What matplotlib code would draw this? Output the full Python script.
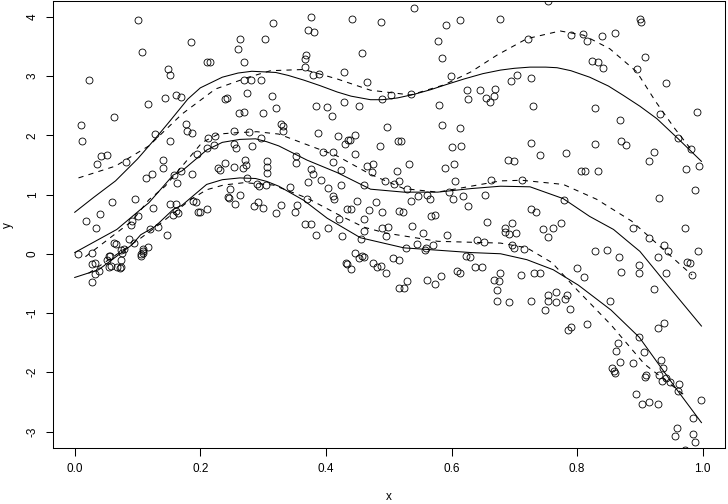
import matplotlib
matplotlib.use("Agg")
import matplotlib.pyplot as plt
import numpy as np

# ---- scatter data (x, y) ----
points = [
    (0.101,3.94),(0.107,3.41),(0.023,2.94),(0.010,2.18),(0.011,1.90),(0.062,2.30),(0.117,2.52),
    (0.042,1.65),(0.052,1.67),(0.035,1.52),(0.081,1.55),(0.128,2.02),(0.143,2.63),(0.162,2.68),
    (0.170,2.65),(0.148,3.12),(0.151,3.01),(0.185,3.58),(0.210,3.23),(0.215,3.23),(0.263,3.63),
    (0.260,3.46),(0.303,3.62),(0.315,3.90),(0.269,3.23),(0.270,2.94),(0.280,2.94),(0.297,2.94),
    (0.275,2.71),(0.240,2.62),(0.242,2.63),(0.314,2.66),(0.321,2.46),(0.262,2.38),(0.270,2.39),
    (0.300,2.38),(0.177,2.19),(0.179,2.07),(0.187,2.03),(0.151,1.91),(0.212,1.96),(0.223,1.98),
    (0.210,1.78),(0.222,1.84),(0.195,1.68),(0.253,2.08),(0.277,2.06),(0.296,1.95),(0.254,1.86),
    (0.257,1.78),(0.283,1.82),(0.141,1.58),(0.140,1.44),(0.113,1.28),(0.123,1.35),(0.158,1.33),
    (0.169,1.39),(0.163,1.20),(0.187,1.34),(0.228,1.44),(0.232,1.41),(0.240,1.54),(0.253,1.47),
    (0.268,1.44),(0.271,1.59),(0.272,1.50),(0.306,1.56),(0.306,1.47),(0.306,1.36),(0.275,1.28),
    (0.290,1.17),(0.294,1.15),(0.304,1.16),(0.059,0.87),(0.096,0.93),(0.041,0.67),(0.018,0.55),
    (0.034,0.44),(0.091,0.55),(0.100,0.63),(0.089,0.49),(0.124,0.78),(0.152,0.84),(0.161,0.84),
    (0.156,0.65),(0.162,0.72),(0.164,0.68),(0.189,0.89),(0.193,0.87),(0.197,0.70),(0.199,0.71),
    (0.211,0.75),(0.244,0.96),(0.246,0.94),(0.248,1.10),(0.256,0.84),(0.263,0.99),(0.285,0.80),
    (0.292,0.87),(0.300,0.77),(0.321,0.69),(0.120,0.42),(0.132,0.46),
    (0.006,0.00),(0.028,0.01),(0.033,-0.16),(0.027,-0.18),(0.033,-0.34),(0.038,-0.29),(0.028,-0.47),
    (0.054,-0.03),(0.056,-0.03),(0.052,-0.10),(0.054,-0.23),(0.057,-0.20),(0.063,0.18),(0.065,0.16),
    (0.073,0.06),(0.079,0.08),(0.073,-0.10),(0.075,0.01),(0.068,-0.23),(0.072,-0.24),(0.074,-0.23),
    (0.087,0.25),(0.094,0.18),(0.109,0.08),(0.116,0.11),(0.105,-0.03),(0.106,-0.01),(0.108,0.01),
    (0.109,0.05),(0.147,0.32),
    (0.377,3.99),(0.371,3.78),(0.381,3.74),(0.441,3.96),(0.487,3.92),(0.541,4.15),(0.591,3.86),
    (0.613,3.95),(0.678,3.97),(0.579,3.59),(0.585,3.31),(0.457,3.38),(0.369,3.35),(0.367,3.28),
    (0.367,3.15),(0.380,3.02),(0.389,3.04),(0.429,3.06),(0.466,2.90),(0.599,3.00),(0.384,2.49),
    (0.402,2.47),(0.410,2.32),(0.429,2.56),(0.452,2.49),(0.490,2.61),(0.503,2.68),(0.535,2.69),
    (0.580,2.51),(0.625,2.76),(0.627,2.61),(0.646,2.76),(0.655,2.63),(0.661,2.56),(0.667,2.67),
    (0.670,2.78),(0.329,2.19),(0.332,2.16),(0.332,2.07),(0.497,2.14),(0.585,2.18),(0.614,2.13),
    (0.388,2.04),(0.419,1.98),(0.431,1.86),(0.435,1.92),(0.438,1.92),(0.446,2.00),(0.486,1.82),
    (0.515,1.90),(0.519,1.91),(0.601,1.81),(0.615,1.82),(0.352,1.65),(0.352,1.53),(0.395,1.71),
    (0.412,1.72),(0.412,1.55),(0.447,1.69),(0.424,1.41),(0.376,1.43),(0.380,1.35),(0.392,1.25),
    (0.371,1.21),(0.466,1.48),(0.475,1.52),(0.473,1.38),(0.513,1.39),(0.532,1.52),(0.590,1.44),
    (0.604,1.51),(0.343,1.13),(0.424,1.16),(0.461,1.16),(0.494,1.23),(0.508,1.17),(0.516,1.23),
    (0.529,1.09),(0.606,1.22),(0.663,1.25),(0.653,0.99),(0.404,1.11),(0.411,0.98),(0.413,0.92),
    (0.370,0.93),(0.450,0.89),(0.480,0.87),(0.546,0.98),(0.561,1.00),(0.566,0.92),(0.536,0.89),
    (0.596,1.05),(0.602,0.93),(0.618,0.98),(0.627,0.81),(0.328,0.82),(0.350,0.71),(0.354,0.83),
    (0.434,0.76),(0.440,0.75),(0.469,0.74),(0.489,0.70),(0.516,0.72),(0.523,0.71),(0.567,0.63),
    (0.574,0.66),(0.366,0.51),(0.376,0.50),(0.421,0.58),(0.461,0.58),(0.404,0.44),(0.490,0.43),
    (0.499,0.46),(0.537,0.47),(0.657,0.53),
    (0.385,0.32),(0.425,0.30),(0.460,0.38),(0.456,0.25),(0.446,0.02),(0.452,-0.07),(0.458,-0.03),
    (0.460,-0.06),(0.432,-0.16),(0.433,-0.17),(0.440,-0.25),(0.475,-0.15),(0.482,-0.23),(0.487,-0.21),
    (0.496,-0.33),(0.495,0.30),(0.507,-0.07),(0.516,-0.11),(0.527,0.10),(0.517,-0.57),(0.524,-0.57),
    (0.529,-0.46),(0.545,0.16),(0.554,0.35),(0.557,0.07),(0.560,0.10),(0.571,0.14),(0.561,-0.45),
    (0.574,-0.51),(0.583,-0.37),(0.593,0.31),(0.608,-0.29),(0.614,-0.32),(0.623,-0.03),(0.629,-0.06),
    (0.637,-0.22),(0.648,-0.22),(0.641,0.24),(0.651,0.20),(0.668,-0.45),(0.675,-0.46),(0.672,-0.62),
    (0.672,-0.80),(0.678,-0.33),
    (0.753,4.27),(0.900,3.96),(0.902,3.92),(0.721,3.63),(0.791,3.69),(0.810,3.71),(0.816,3.59),
    (0.839,3.67),(0.861,3.72),(0.908,3.32),(0.823,3.25),(0.833,3.24),(0.841,3.14),(0.896,3.11),
    (0.695,2.91),(0.704,3.02),(0.726,2.96),(0.942,2.88),(0.729,2.50),(0.829,2.46),(0.868,2.26),
    (0.932,2.36),(0.991,2.39),(0.960,1.95),(0.981,1.76),(0.994,1.48),(0.973,1.43),(0.988,1.07),
    (0.931,0.94),(0.915,1.57),(0.922,1.72),(0.870,1.90),(0.878,1.83),(0.829,1.85),(0.726,1.87),
    (0.741,1.66),(0.783,1.70),(0.690,1.58),(0.699,1.57),(0.806,1.39),(0.813,1.39),(0.834,1.39),
    (0.712,1.24),(0.779,0.90),(0.727,0.76),(0.735,0.70),(0.685,0.44),(0.696,0.52),(0.746,0.42),
    (0.762,0.43),(0.774,0.52),(0.889,0.43),(0.972,0.43),
    (0.685,0.36),(0.692,0.34),(0.703,0.35),(0.753,0.28),(0.697,0.14),(0.700,0.10),(0.716,0.08),
    (0.691,-0.81),(0.711,-0.36),(0.731,-0.32),(0.741,-0.32),(0.727,-0.80),(0.749,-0.95),(0.754,-0.69),
    (0.754,-0.80),(0.766,-0.65),(0.766,-0.81),(0.780,-0.76),(0.784,-0.70),(0.788,-0.94),(0.785,-1.28),
    (0.791,-1.24),(0.800,-0.24),(0.811,-0.39),(0.816,-1.18),(0.829,0.04),(0.848,0.06),(0.866,-0.05),
    (0.870,-0.30),(0.852,-0.80),(0.914,0.27),(0.899,-0.19),(0.899,-0.32),(0.923,-0.60),(0.929,-0.06),
    (0.938,0.14),(0.944,0.05),(0.941,-0.32),(0.975,-0.14),(0.980,-0.16),(0.983,-0.36),(0.993,0.05),
    (0.929,-1.26),(0.938,-1.17),(0.899,-1.41),(0.865,-1.50),(0.862,-1.64),(0.869,-1.82),(0.856,-1.93),
    (0.859,-1.98),(0.860,-2.01),(0.889,-1.85),(0.907,-1.66),(0.934,-1.79),(0.937,-1.92),(0.908,-2.08),
    (0.910,-2.05),(0.931,-2.05),(0.935,-2.14),(0.942,-2.10),(0.948,-2.16),(0.963,-2.20),(0.960,-2.31),
    (0.894,-2.37),(0.904,-2.54),(0.914,-2.51),(0.929,-2.54),(0.997,-2.46),(0.984,-2.78),(0.959,-2.94),
    (0.956,-3.08),(0.984,-3.05),(0.987,-3.18),(0.972,-3.31),
]
pt_x = [p[0] for p in points]
pt_y = [p[1] for p in points]

# ---- fitted curves (solid) ----
upper_solid_x = [0.0,0.03,0.065,0.10,0.128,0.15,0.18,0.20,0.235,0.26,0.282,0.32,0.34,0.365,0.39,
                 0.418,0.44,0.471,0.49,0.514,0.54,0.567,0.59,0.62,0.65,0.678,0.70,0.725,0.75,
                 0.768,0.79,0.82,0.85,0.874,0.90,0.927,0.959,0.998]
upper_solid_y = [0.70,0.95,1.23,1.60,1.94,2.22,2.61,2.80,2.98,3.05,3.08,3.06,3.01,2.93,2.84,
                 2.73,2.66,2.60,2.60,2.63,2.69,2.77,2.85,2.95,3.04,3.10,3.13,3.15,3.15,
                 3.14,3.09,2.98,2.83,2.67,2.49,2.28,1.96,1.56]

mid_solid_x = [0.0,0.067,0.104,0.118,0.157,0.171,0.21,0.235,0.263,0.288,0.306,0.325,0.37,0.418,
               0.471,0.524,0.578,0.631,0.678,0.725,0.778,0.82,0.858,0.884,0.90,0.937,0.998]
mid_solid_y = [0.02,0.41,0.74,0.86,1.33,1.40,1.75,1.88,1.93,1.94,1.89,1.82,1.58,1.37,
               1.09,1.04,1.04,1.10,1.14,1.13,0.93,0.63,0.41,0.18,0.04,-0.44,-1.22]

low_solid_x = [0.0,0.038,0.091,0.105,0.128,0.157,0.171,0.21,0.235,0.263,0.288,0.306,0.325,0.365,
               0.402,0.455,0.524,0.578,0.631,0.678,0.72,0.762,0.802,0.854,0.899,0.96,0.998]
low_solid_y = [-0.40,-0.27,0.15,0.32,0.46,0.75,0.82,1.17,1.25,1.28,1.27,1.22,1.14,0.90,
               0.60,0.27,0.10,0.06,0.02,0.00,-0.10,-0.27,-0.53,-0.95,-1.41,-2.31,-2.85]

# ---- fitted curves (dashed) ----
upper_dash_x = [0.006,0.065,0.118,0.171,0.224,0.277,0.312,0.365,0.418,0.471,0.535,0.588,0.631,
                0.672,0.72,0.773,0.81,0.852,0.895,0.925,0.955,0.983]
upper_dash_y = [1.28,1.48,1.82,2.36,2.78,2.98,3.09,3.11,2.95,2.76,2.68,2.85,3.07,
                3.35,3.63,3.76,3.69,3.46,3.07,2.57,2.12,1.74]

mid_dash_x = [0.017,0.091,0.118,0.144,0.203,0.229,0.253,0.29,0.325,0.365,0.418,0.471,0.524,
              0.578,0.631,0.678,0.712,0.778,0.831,0.887,0.944,0.983]
mid_dash_y = [-0.05,0.55,0.91,1.14,1.88,2.02,2.04,2.06,2.02,1.86,1.65,1.34,1.10,
              1.04,1.14,1.23,1.24,1.17,0.92,0.55,0.01,-0.36]

low_dash_x = [0.022,0.102,0.134,0.184,0.21,0.237,0.27,0.316,0.37,0.418,0.46,0.495,0.578,
              0.678,0.72,0.76,0.80,0.854,0.907,0.975]
low_dash_y = [-0.33,0.24,0.49,0.91,1.08,1.16,1.20,1.16,0.94,0.67,0.45,0.35,0.21,
              0.18,0.10,-0.15,-0.61,-1.20,-1.86,-2.42]

x_ticks = [0.0, 0.2, 0.4, 0.6, 0.8, 1.0]
x_tick_labels = ["0.0", "0.2", "0.4", "0.6", "0.8", "1.0"]
y_ticks = [-3, -2, -1, 0, 1, 2, 3, 4]
y_tick_labels = ["-3", "-2", "-1", "0", "1", "2", "3", "4"]

plt.rcParams['font.family'] = ['Liberation Sans', 'DejaVu Sans']

fig = plt.figure(figsize=(7.28, 5.04), dpi=100)
ax = fig.add_axes([53/728, 1 - 447.5/504, (725 - 53)/728, (447.5 - 1)/504])

lw = 0.75
ax.plot(pt_x, pt_y, linestyle='none', marker='o', markersize=5.0,
        markerfacecolor='none', markeredgecolor='black', markeredgewidth=0.6)

for cx, cy in [(upper_solid_x, upper_solid_y), (mid_solid_x, mid_solid_y), (low_solid_x, low_solid_y)]:
    ax.plot(cx, cy, color='black', lw=lw, linestyle='-')
for cx, cy in [(upper_dash_x, upper_dash_y), (mid_dash_x, mid_dash_y), (low_dash_x, low_dash_y)]:
    ax.plot(cx, cy, color='black', lw=lw, linestyle=(0, (5, 5)))

ax.set_xlim(-0.0346, 1.0355)
ax.set_ylim(-3.27, 4.266)

ax.set_xticks(x_ticks)
ax.set_xticklabels(x_tick_labels)
ax.set_yticks(y_ticks)
ax.set_yticklabels(y_tick_labels, rotation=90, va='center')

ax.tick_params(axis='both', direction='out', length=5.4, width=lw, labelsize=8.5, colors='black')
ax.tick_params(axis='x', pad=6)
ax.tick_params(axis='y', pad=5)
for s in ax.spines.values():
    s.set_linewidth(lw)
    s.set_color('black')

fig.text(389/728, 1 - 497/504, "x", ha='center', va='center', fontsize=8.5)
fig.text(8/728, 1 - 225/504, "y", ha='center', va='center', fontsize=8.5, rotation=90)

fig.savefig("out.png", dpi=100)
